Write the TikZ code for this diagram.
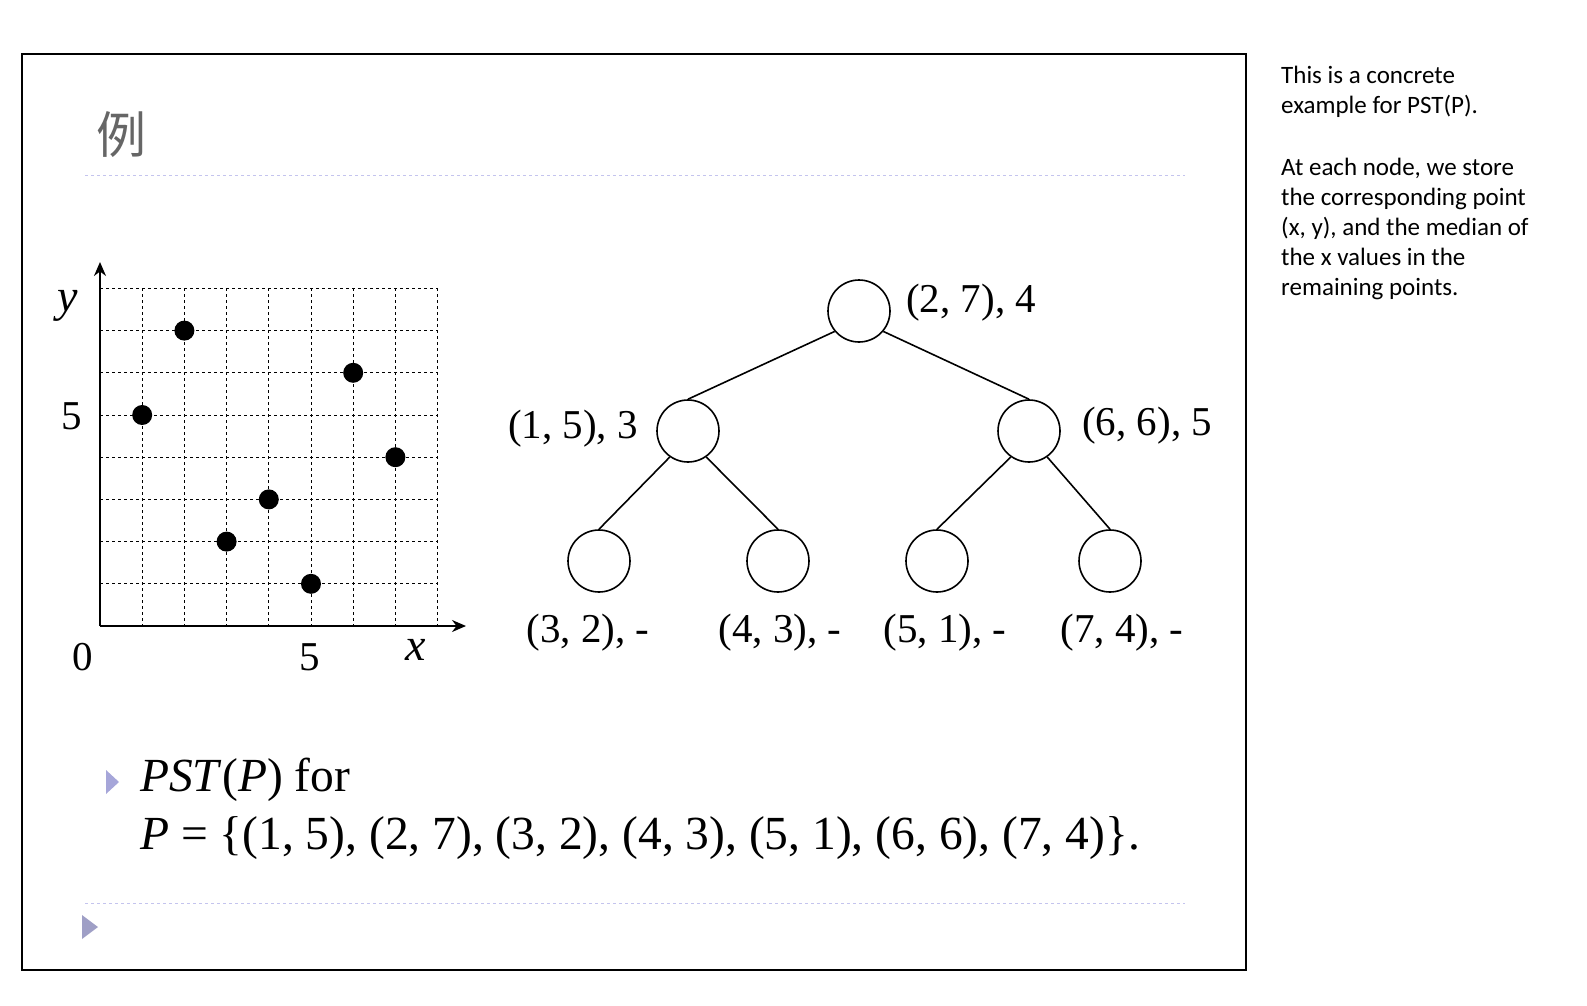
\documentclass[tikz,border=0pt]{standalone}
\usepackage{fontspec}
\usetikzlibrary{arrows.meta}
\setmainfont{Liberation Serif}
\newfontfamily\cjk{Noto Sans CJK SC}
\newfontfamily\notefont{Carlito}
\begin{document}
\begin{tikzpicture}[x=1pt,y=-1pt,
  vtx/.style={circle,draw,line width=1.6pt,minimum size=62pt,inner sep=0pt},
  lbl/.style={font=\fontsize{41}{46}\selectfont,inner sep=0pt},
  dotp/.style={circle,fill=black,minimum size=20pt,inner sep=0pt},
  ln/.style={line width=1.6pt}]
\useasboundingbox (0,0) rectangle (1587,1006);
\draw[line width=1.5pt] (22,54) rectangle (1246,970);
\node[text=gray!80!black,font=\cjk\fontsize{50}{54}\selectfont] (title) at (121,135) {例};
\draw[dashed,color=gray!45!blue!30] (85,175) -- (1185,175);
\draw[dashed,color=gray!45!blue!30] (85,903) -- (1185,903);
\fill[blue!25!gray!60] (82,915) -- (98,927) -- (82,939) -- cycle;
% grid
\foreach \i in {1,...,8} \draw[dashed,line width=0.9pt] (100+42.2*\i,288) -- (100+42.2*\i,626);
\foreach \j in {1,...,8} \draw[dashed,line width=0.9pt] (100,626-42.2*\j) -- (437,626-42.2*\j);
\draw[line width=2pt,-{Stealth[length=14pt,width=12pt]}] (100,626) -- (466,626);
\draw[line width=2pt,-{Stealth[length=14pt,width=12pt]}] (100,626) -- (100,262);
\foreach \px/\py [count=\k] in {1/5,2/7,3/2,4/3,5/1,6/6,7/4}
  \node[dotp] (p\k) at (100+42.2*\px,626-42.2*\py) {};
\node[lbl,font=\fontsize{46}{50}\selectfont\itshape] (ylab) at (68,306) {y};
\node[lbl] (y5) at (72,416) {5};
\node[lbl] (x0) at (83,657) {0};
\node[lbl] (x5) at (310,657) {5};
\node[lbl,font=\fontsize{46}{50}\selectfont\itshape] (xlab) at (416,650) {x};
% tree
\node[vtx] (r) at (859,311) {};
\node[vtx] (a) at (688,431) {};
\node[vtx] (b) at (1029,431) {};
\node[vtx] (c) at (599,561) {};
\node[vtx] (d) at (778,561) {};
\node[vtx] (e) at (937,561) {};
\node[vtx] (f) at (1110,561) {};
\draw[ln] (r.220) -- (a.north); \draw[ln] (r.320) -- (b.north);
\draw[ln] (a.235) -- (c.north); \draw[ln] (a.305) -- (d.north);
\draw[ln] (b.235) -- (e.north); \draw[ln] (b.305) -- (f.north);
\node[lbl,anchor=west] (lr) at (906,303) {(2, 7), 4};
\node[lbl,anchor=east] (la) at (638,429) {(1, 5), 3};
\node[lbl,anchor=west] (lb) at (1082,426) {(6, 6), 5};
\node[lbl] (lc) at (588,633) {(3, 2), -};
\node[lbl] (ld) at (780,633) {(4, 3), -};
\node[lbl] (le) at (945,633) {(5, 1), -};
\node[lbl] (lf) at (1122,633) {(7, 4), -};
% bullet text
\fill[gray!60!blue!50] (106,770) -- (119,782) -- (106,794) -- cycle;
\node[anchor=west,inner sep=0pt,font=\fontsize{47.5}{52}\selectfont] (t1) at (140,780) {\textit{PST}(\textit{P}) for};
\node[anchor=west,inner sep=0pt,font=\fontsize{47.5}{52}\selectfont] (t2) at (140,838) {\textit{P} = \{(1, 5), (2, 7), (3, 2), (4, 3), (5, 1), (6, 6), (7, 4)\}.};
% side note
\node[anchor=north west,inner sep=0pt,align=left,font=\notefont\fontsize{25}{30}\selectfont] (note) at (1281,66)
{This is a concrete\\example for PST(P).\\[32pt]At each node, we store\\the corresponding point\\(x, y), and the median of\\the x values in the\\remaining points.};
\end{tikzpicture}
\end{document}
